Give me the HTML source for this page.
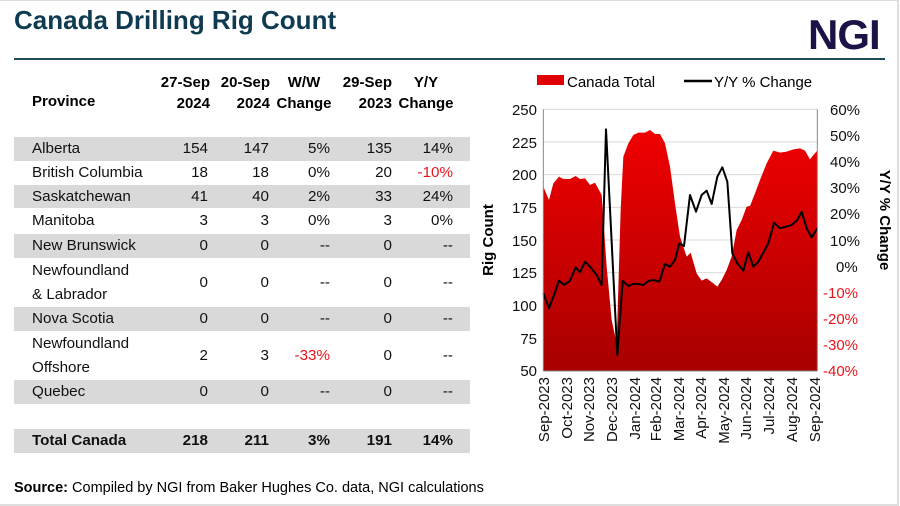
<!DOCTYPE html>
<html><head><meta charset="utf-8"><style>
body{margin:0;width:900px;height:505px;background:#fff;position:relative;overflow:hidden;font-family:"Liberation Sans",Arial,sans-serif;}
.abs{position:absolute}
.row{position:absolute;left:14px;width:456px;}
.g{background:#d9d9d9}
.c{position:absolute;font-size:15.2px;color:#111;white-space:nowrap;line-height:24px}
.r{text-align:right}
.red{color:#e8141c}
.b{font-weight:bold}
</style></head><body>
<div class="abs" style="left:0;top:0;width:897px;height:503px;border-right:2px solid #ddd;border-bottom:2px solid #ddd;border-top:1px solid #ddd"></div>
<div class="abs" style="left:14px;top:5px;font-size:26px;font-weight:bold;color:#0f3b52">Canada Drilling Rig Count</div>
<div class="abs" style="left:808px;top:11px;font-size:42px;font-weight:bold;color:#1a1446;letter-spacing:-1px">NGI</div>
<div class="abs" style="left:14px;top:58px;width:871px;height:2px;background:#1e4a5c"></div>

<div class="abs b" style="left:32px;top:93px;font-size:15px">Province</div>
<div class="abs b r" style="left:140px;width:70px;top:72px;font-size:15px;line-height:21px">27-Sep<br>2024</div>
<div class="abs b r" style="left:200px;width:70px;top:72px;font-size:15px;line-height:21px">20-Sep<br>2024</div>
<div class="abs b" style="left:272px;width:64px;top:72px;font-size:15px;line-height:21px;text-align:center">W/W<br>Change</div>
<div class="abs b r" style="left:322px;width:70px;top:72px;font-size:15px;line-height:21px">29-Sep<br>2023</div>
<div class="abs b" style="left:394px;width:64px;top:72px;font-size:15px;line-height:21px;text-align:center">Y/Y<br>Change</div>

<div class="row g" style="top:137px;height:24px"></div>
<div class="row g" style="top:185px;height:23px"></div>
<div class="row g" style="top:234px;height:24px"></div>
<div class="row g" style="top:307px;height:24px"></div>
<div class="row g" style="top:380px;height:24px"></div>
<div class="row g" style="top:429px;height:24px"></div>

<div id="t"></div>
<script>
var rows=[
[149,"Alberta","154","147","5%","135","14%"],
[173,"British Columbia","18","18","0%","20","-10%r"],
[197,"Saskatchewan","41","40","2%","33","24%"],
[221,"Manitoba","3","3","0%","3","0%"],
[246,"New Brunswick","0","0","--","0","--"],
[283,"Newfoundland<br>& Labrador","0","0","--","0","--"],
[319,"Nova Scotia","0","0","--","0","--"],
[356,"Newfoundland<br>Offshore","2","3","-33%r","0","--"],
[392,"Quebec","0","0","--","0","--"],
[441,"Total Canada","218","211","3%","191","14%"]];
var rx=[208,269,330,392,453],h="";
rows.forEach(function(r,i){var b=i==9?" b":"";var y=r[0];
 var two=r[1].indexOf("<br>")>0;
 h+='<div class="c'+b+'" style="left:32px;top:'+(two?y-24:y-12)+'px">'+r[1]+'</div>';
 for(var k=0;k<5;k++){var v=r[k+2],cl="";if(v.slice(-1)=="r"){v=v.slice(0,-1);cl=" red";}
 h+='<div class="c r'+b+cl+'" style="left:'+(rx[k]-80)+'px;width:80px;top:'+(y-12)+'px">'+v+'</div>';}
});
document.getElementById("t").innerHTML=h;
</script>
<div class="abs" style="left:14px;top:480px;font-size:14.5px"><b>Source:</b> Compiled by NGI from Baker Hughes Co. data, NGI calculations</div>

<svg class="abs" style="left:0;top:0" width="900" height="505">
<defs><linearGradient id="gr" x1="0" y1="0" x2="0" y2="1"><stop offset="0" stop-color="#f00000"/><stop offset="1" stop-color="#a80000"/></linearGradient></defs>
<g transform="translate(480 60) scale(0.33333)">
<g stroke="#d9d9d9" stroke-width="3">
<line x1="190" x2="1012" y1="148" y2="148"/><line x1="190" x2="1012" y1="246" y2="246"/><line x1="190" x2="1012" y1="344" y2="344"/><line x1="190" x2="1012" y1="442" y2="442"/><line x1="190" x2="1012" y1="540" y2="540"/><line x1="190" x2="1012" y1="638" y2="638"/><line x1="190" x2="1012" y1="736" y2="736"/><line x1="190" x2="1012" y1="834" y2="834"/>
</g>
<polygon fill="url(#gr)" points="190,380 207,420 220,370 237,350 250,357 270,357 287,348 300,357 315,355 330,375 345,368 365,405 380,620 395,780 410,850 422,450 430,290 445,250 460,225 475,218 495,218 510,210 525,222 540,222 555,250 570,320 585,430 600,530 620,590 632,578 650,640 665,662 680,655 700,670 712,680 725,660 740,630 755,590 770,510 785,480 800,440 810,438 825,400 840,360 860,310 880,272 900,278 920,275 940,268 960,265 975,272 990,298 1000,285 1012,272 1012,933 190,933"/>
<polyline fill="none" stroke="#000" stroke-width="6" stroke-linejoin="round" points="190,700 207,745 222,705 237,662 252,675 270,662 287,622 300,637 315,605 330,620 350,645 365,675 378,208 412,885 428,663 445,678 460,672 475,672 490,675 505,663 520,660 538,665 555,612 570,620 585,600 598,550 612,558 630,405 648,455 665,405 680,392 695,432 712,350 727,322 742,365 757,580 772,610 790,632 805,577 820,620 835,605 850,578 865,550 882,488 900,505 918,500 935,495 952,480 965,455 980,505 995,532 1012,505"/>
<g stroke="#888" stroke-width="3"><line x1="190" x2="190" y1="148" y2="933"/><line x1="1012" x2="1012" y1="148" y2="933"/><line x1="190" x2="1012" y1="933" y2="933"/></g>
</g>
<g font-size="15" text-anchor="end" fill="#111">
<text x="537" y="115">250</text><text x="537" y="148">225</text><text x="537" y="180">200</text><text x="537" y="213">175</text><text x="537" y="246">150</text><text x="537" y="278">125</text><text x="537" y="311">100</text><text x="537" y="344">75</text><text x="537" y="376">50</text>
</g>
<g font-size="15" fill="#111">
<text x="830" y="115">60%</text><text x="830" y="141">50%</text><text x="830" y="167">40%</text><text x="830" y="193">30%</text><text x="830" y="219">20%</text><text x="830" y="246">10%</text><text x="836" y="272">0%</text>
<g fill="#e8141c"><text x="823" y="298">-10%</text><text x="823" y="324">-20%</text><text x="823" y="350">-30%</text><text x="823" y="376">-40%</text></g>
</g>
<text transform="translate(493 240) rotate(-90)" font-size="15" font-weight="bold" text-anchor="middle">Rig Count</text>
<text transform="translate(880 220) rotate(90)" font-size="15" font-weight="bold" text-anchor="middle">Y/Y % Change</text>
<g font-size="15" fill="#111" text-anchor="end">
<text transform="translate(549 377) rotate(-90)">Sep-2023</text><text transform="translate(572 377) rotate(-90)">Oct-2023</text><text transform="translate(594 377) rotate(-90)">Nov-2023</text><text transform="translate(617 377) rotate(-90)">Dec-2023</text><text transform="translate(640 377) rotate(-90)">Jan-2024</text><text transform="translate(661 377) rotate(-90)">Feb-2024</text><text transform="translate(684 377) rotate(-90)">Mar-2024</text><text transform="translate(706 377) rotate(-90)">Apr-2024</text><text transform="translate(729 377) rotate(-90)">May-2024</text><text transform="translate(751 377) rotate(-90)">Jun-2024</text><text transform="translate(774 377) rotate(-90)">Jul-2024</text><text transform="translate(797 377) rotate(-90)">Aug-2024</text><text transform="translate(820 377) rotate(-90)">Sep-2024</text>
</g>
<rect x="537" y="75" width="27" height="10" fill="#e00000"/>
<text x="567" y="87" font-size="15">Canada Total</text>
<line x1="684" x2="712" y1="81" y2="81" stroke="#000" stroke-width="2.5"/>
<text x="714" y="87" font-size="15">Y/Y % Change</text>
</svg>
</body></html>
